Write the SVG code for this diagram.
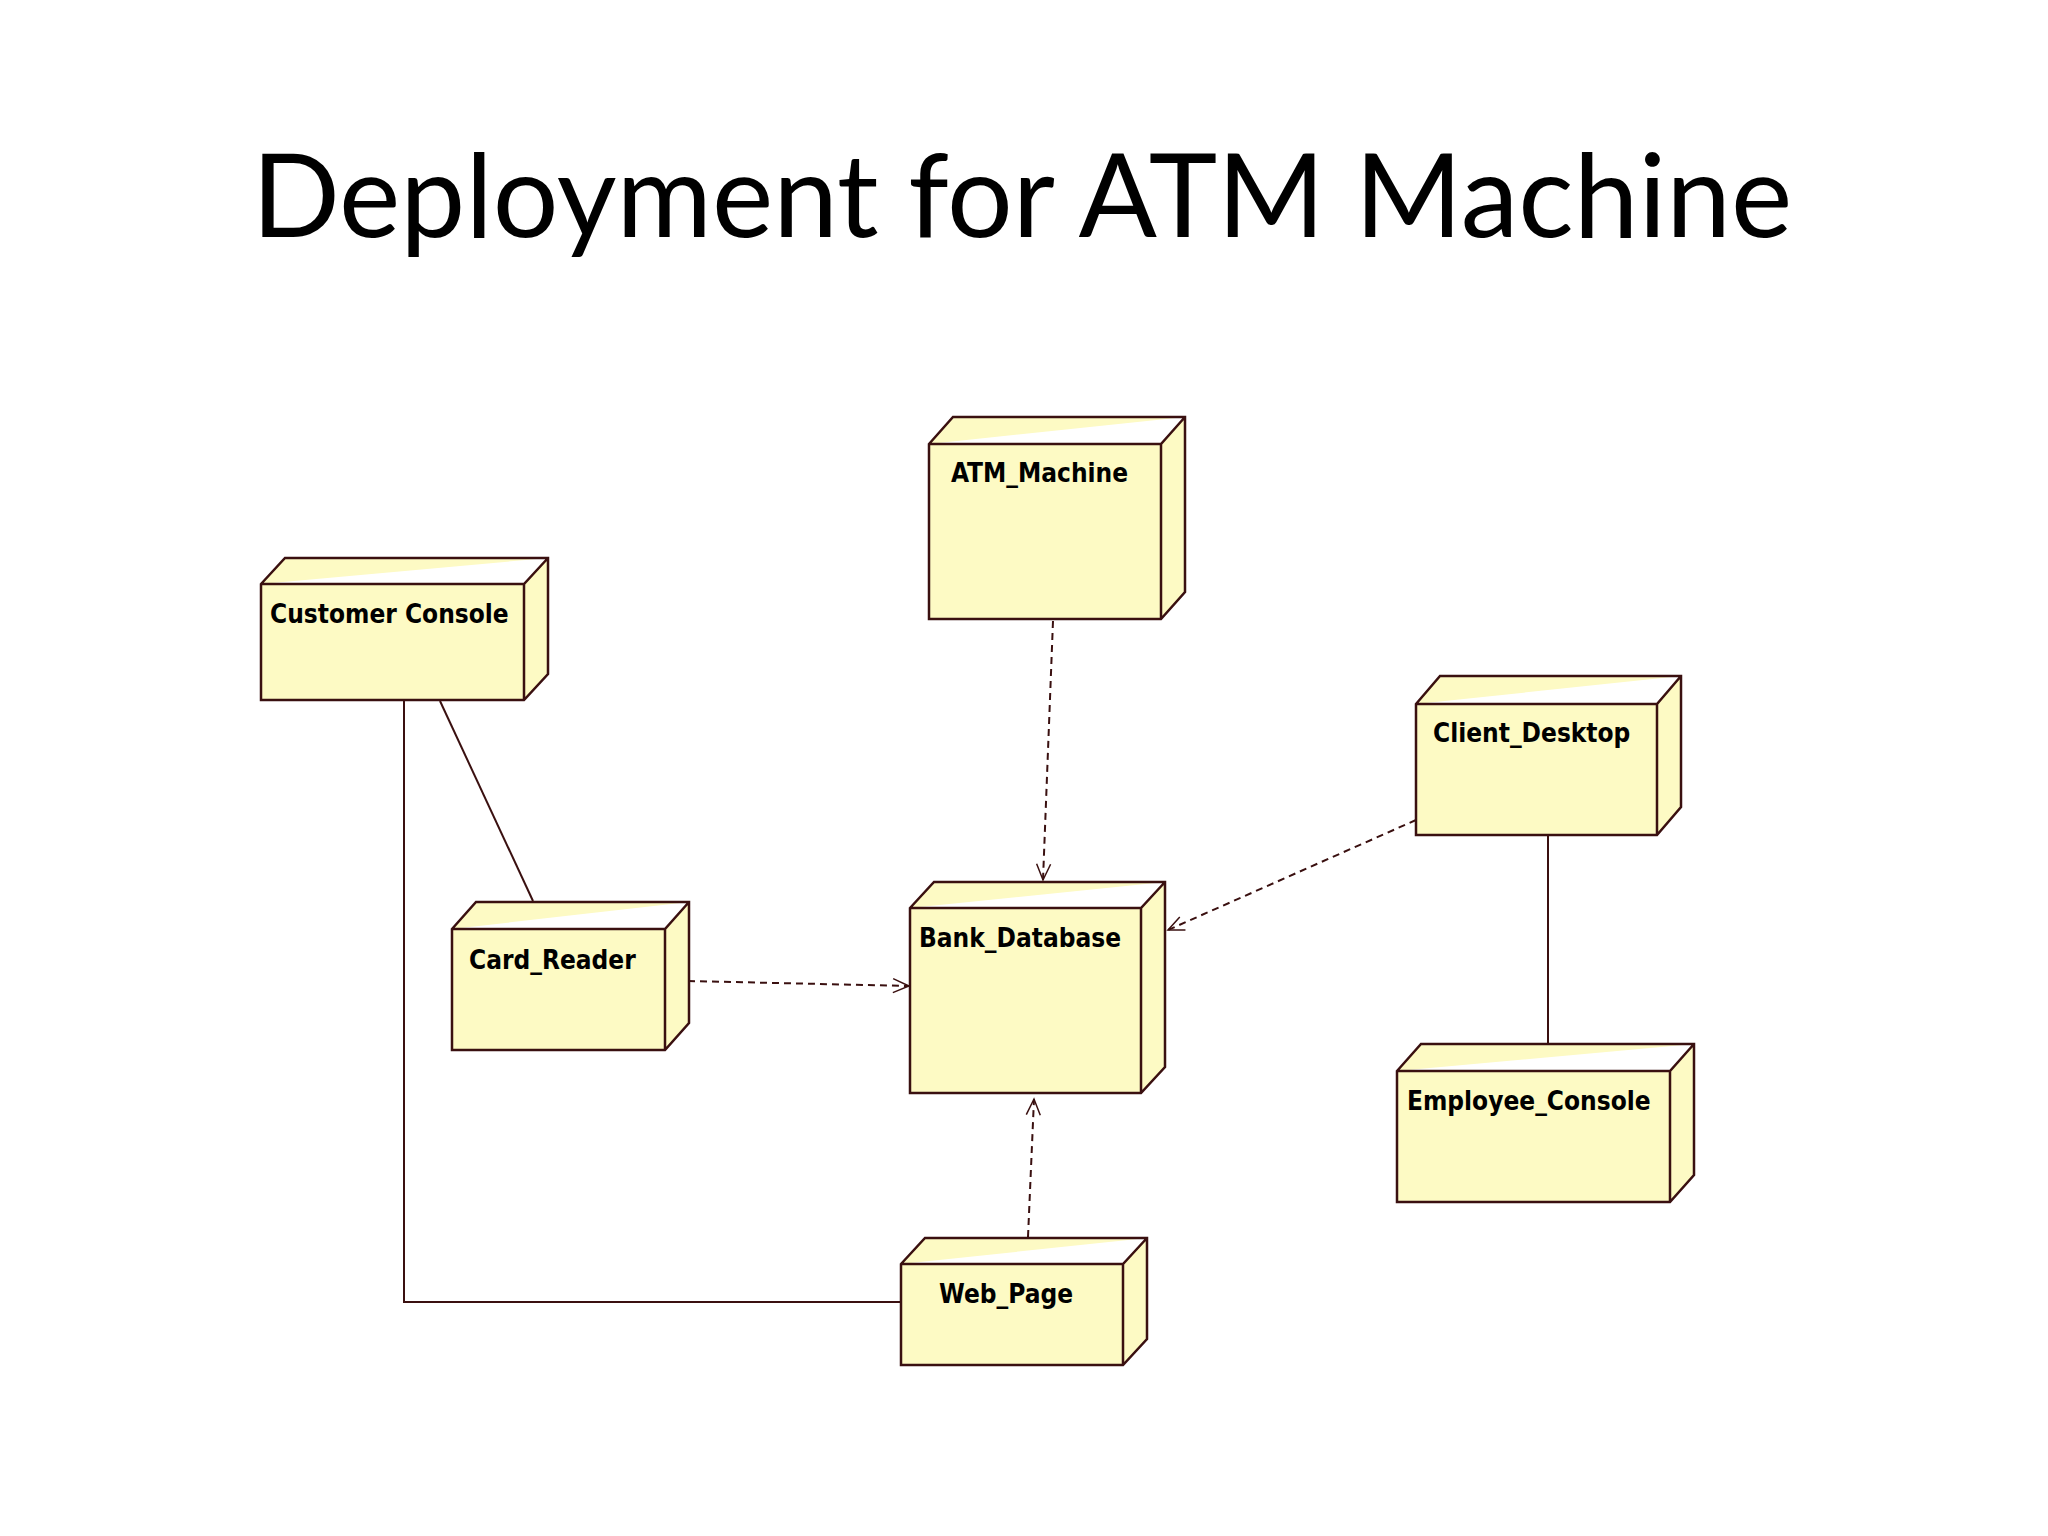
<svg xmlns="http://www.w3.org/2000/svg" width="2048" height="1536" viewBox="0 0 2048 1536">
<defs>
<style>
.n path{fill:#fdfac4;stroke:#3a1010;stroke-width:2.5;stroke-linejoin:miter}
.n text{font-family:"DejaVu Sans Condensed","DejaVu Sans",sans-serif;font-weight:bold;font-size:26px;fill:#000}
.c line,.c polyline{fill:none;stroke:#3a1010;stroke-width:2}
.d{stroke-dasharray:7 5;marker-end:url(#a)}
</style>
<marker id="a" viewBox="0 0 20 20" refX="18" refY="10" markerWidth="20" markerHeight="20" markerUnits="userSpaceOnUse" orient="auto">
<path d="M2,3 L18,10 L2,17" fill="none" stroke="#3a1010" stroke-width="1.5"/>
</marker>
</defs>
<rect width="2048" height="1536" fill="#fff"/>
<text x="1022" y="237" text-anchor="middle" font-family="Lato,'Open Sans',sans-serif" font-size="116" fill="#000">Deployment for ATM Machine</text>
<g class="c">
<line x1="440" y1="701" x2="533" y2="901"/>
<polyline points="404,701 404,1302 901,1302"/>
<line x1="1548" y1="835" x2="1548" y2="1044"/>
<line class="d" x1="1053" y1="621" x2="1043" y2="880"/>
<line class="d" x1="1416" y1="820" x2="1168" y2="930"/>
<line class="d" x1="688" y1="981" x2="909" y2="986"/>
<line class="d" x1="1028" y1="1237" x2="1034" y2="1099"/>
</g>
<g id="customer_console" class="n"><path d="M261,584 L285,558 L548,558 L548,674 L524,700 L261,700 Z M261,584 L524,584 L548,558 M524,584 L524,700"/><text x="270" y="623">Customer Console</text></g>
<g id="atm_machine" class="n"><path d="M929,444 L953,417 L1185,417 L1185,592 L1161,619 L929,619 Z M929,444 L1161,444 L1185,417 M1161,444 L1161,619"/><text x="951" y="482">ATM_Machine</text></g>
<g id="client_desktop" class="n"><path d="M1416,704 L1440,676 L1681,676 L1681,807 L1657,835 L1416,835 Z M1416,704 L1657,704 L1681,676 M1657,704 L1657,835"/><text x="1433" y="742">Client_Desktop</text></g>
<g id="card_reader" class="n"><path d="M452,929 L476,902 L689,902 L689,1023 L665,1050 L452,1050 Z M452,929 L665,929 L689,902 M665,929 L665,1050"/><text x="469" y="969">Card_Reader</text></g>
<g id="bank_database" class="n"><path d="M910,908 L934,882 L1165,882 L1165,1067 L1141,1093 L910,1093 Z M910,908 L1141,908 L1165,882 M1141,908 L1141,1093"/><text x="919" y="947">Bank_Database</text></g>
<g id="employee_console" class="n"><path d="M1397,1071 L1421,1044 L1694,1044 L1694,1175 L1670,1202 L1397,1202 Z M1397,1071 L1670,1071 L1694,1044 M1670,1071 L1670,1202"/><text x="1407" y="1110">Employee_Console</text></g>
<g id="web_page" class="n"><path d="M901,1264 L925,1238 L1147,1238 L1147,1339 L1123,1365 L901,1365 Z M901,1264 L1123,1264 L1147,1238 M1123,1264 L1123,1365"/><text x="939" y="1303">Web_Page</text></g>
</svg>
